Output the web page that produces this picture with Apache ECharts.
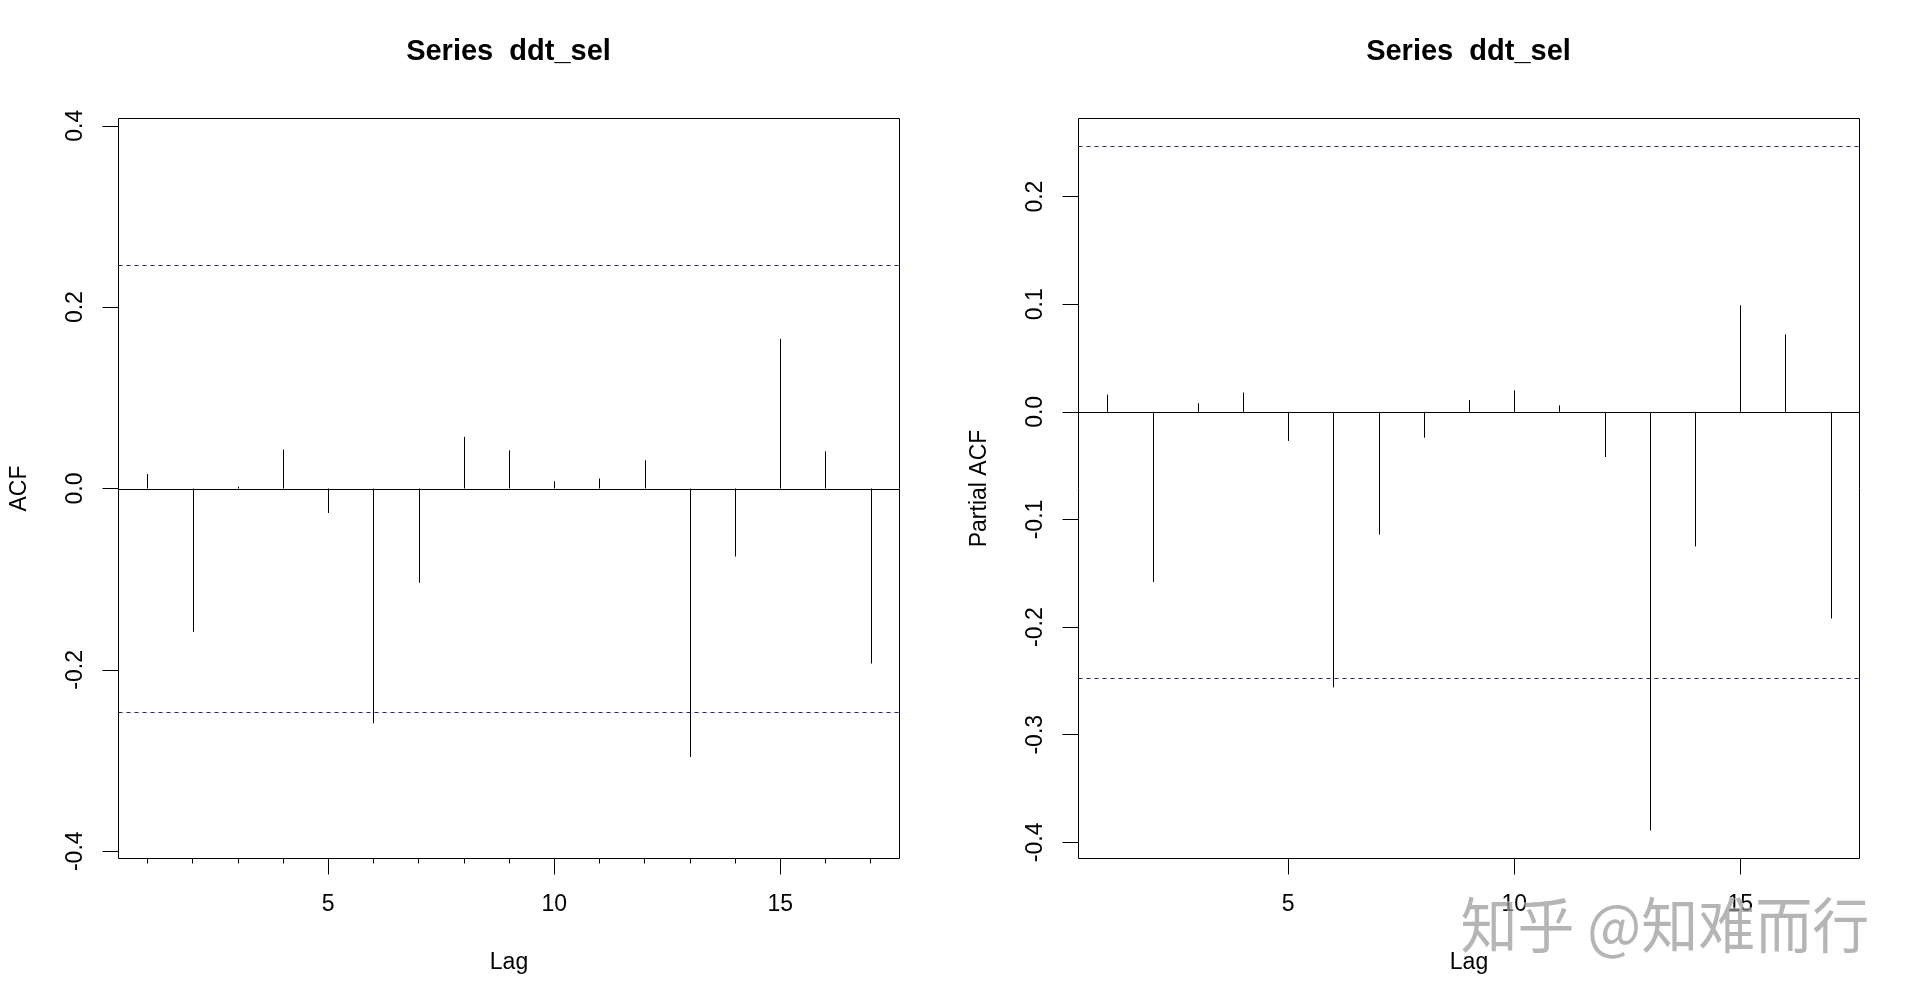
<!DOCTYPE html>
<html>
<head>
<meta charset="utf-8">
<script src="https://cdn.jsdelivr.net/npm/echarts@6/dist/echarts.min.js"></script>
<style>
html,body{margin:0;padding:0;background:#fff;}
#chart{width:1920px;height:1005px;}
</style>
</head>
<body>
<div id="chart"></div>
<script>
// ---- data ----
const lags = [1,2,3,4,5,6,7,8,9,10,11,12,13,14,15,16,17];
const acfValues  = [0.016,-0.158,0.002,0.043,-0.027,-0.259,-0.104,0.057,0.042,0.008,0.011,0.031,-0.296,-0.075,0.165,0.041,-0.193];
const pacfValues = [0.016,-0.158,0.008,0.018,-0.027,-0.256,-0.114,-0.024,0.011,0.020,0.006,-0.042,-0.389,-0.125,0.099,0.072,-0.192];
const ciBound = 0.247;
const xMajorTicks = [5,10,15];
const acfYTicks  = [-0.4,-0.2,0.0,0.2,0.4];
const pacfYTicks = [-0.4,-0.3,-0.2,-0.1,0.0,0.1,0.2];
const titleText = 'Series  ddt_sel';
const watermarkText = '知乎 @知难而行';

const FONT = '"Liberation Sans", Arial, sans-serif';
const AX = 23;
const ciColor = '#22227a';

function stems(vals){ return lags.map((l,i)=>[l, vals[i]]); }

function stemRender(params, api){
  const p0 = api.coord([api.value(0), 0]);
  const p1 = api.coord([api.value(0), api.value(1)]);
  const x = Math.round(p0[0]) + 0.5;
  return {type:'line', shape:{x1:x, y1:p0[1], x2:x, y2:p1[1]}, style:{stroke:'#000', lineWidth:1}};
}
function hlineRender(params, api){
  const cs = params.coordSys;
  const y = Math.round(api.coord([lags[0], api.value(0)])[1]) + 0.5;
  const dashed = api.value(1) === 1;
  return {type:'line', shape:{x1:cs.x, y1:y, x2:cs.x+cs.width, y2:y},
    style:{stroke: dashed ? ciColor : '#000', lineWidth:1, lineDash: dashed ? [4,4] : null}};
}

const grids = [
  {left:118.5, top:118.5, width:781, height:740, show:true, borderColor:'#000', borderWidth:1, backgroundColor:'transparent'},
  {left:1078.5, top:118.5, width:781, height:740, show:true, borderColor:'#000', borderWidth:1, backgroundColor:'transparent'}
];

function xAxisMain(gi){
  return {type:'value', gridIndex:gi, min:0.36, max:17.64, position:'bottom',
    name:'Lag', nameLocation:'middle', nameGap:93,
    nameTextStyle:{fontFamily:FONT, fontSize:AX, color:'#000'},
    axisLine:{show:false, onZero:false}, splitLine:{show:false},
    axisTick:{show:true, length:16, customValues:xMajorTicks, lineStyle:{color:'#000', width:1}},
    axisLabel:{show:true, customValues:xMajorTicks, margin:35, fontFamily:FONT, fontSize:AX, color:'#000'}};
}
function yAxisMain(gi, min, max, ticks, name){
  return {type:'value', gridIndex:gi, min:min, max:max,
    name:name, nameLocation:'middle', nameGap:87,
    nameTextStyle:{fontFamily:FONT, fontSize:AX, color:'#000'},
    axisLine:{show:false, onZero:false}, splitLine:{show:false},
    axisTick:{show:true, length:16, customValues:ticks, lineStyle:{color:'#000', width:1}},
    axisLabel:{show:true, customValues:ticks, rotate:90, margin:31, fontFamily:FONT, fontSize:AX, color:'#000',
      formatter:(v)=>Number(v).toFixed(1)}};
}

const option = {
  animation:false,
  backgroundColor:'#fff',
  title:[
    {text:titleText, left:503.5, top:32.5, textAlign:'center',
     textStyle:{fontFamily:FONT, fontSize:29, fontWeight:'bold', color:'#000'}},
    {text:titleText, left:1463.5, top:32.5, textAlign:'center',
     textStyle:{fontFamily:FONT, fontSize:29, fontWeight:'bold', color:'#000'}}
  ],
  grid:grids,
  xAxis:[
    xAxisMain(0),
    xAxisMain(1),
    {type:'value', gridIndex:0, min:0.36, max:17.64, position:'bottom', offset:0,
     axisLine:{show:false, onZero:false}, splitLine:{show:false}, axisLabel:{show:false},
     axisTick:{show:true, length:5, customValues:lags, lineStyle:{color:'#000', width:1}}}
  ],
  yAxis:[
    yAxisMain(0, -0.408, 0.408, acfYTicks, 'ACF'),
    yAxisMain(1, -0.415, 0.2726, pacfYTicks, 'Partial ACF')
  ],
  series:[
    {type:'custom', xAxisIndex:0, yAxisIndex:0, renderItem:hlineRender, silent:true,
     data:[[0,0],[ciBound,1],[-ciBound,1]]},
    {type:'custom', xAxisIndex:0, yAxisIndex:0, renderItem:stemRender, silent:true, data:stems(acfValues)},
    {type:'custom', xAxisIndex:1, yAxisIndex:1, renderItem:hlineRender, silent:true,
     data:[[0,0],[ciBound,1],[-ciBound,1]]},
    {type:'custom', xAxisIndex:1, yAxisIndex:1, renderItem:stemRender, silent:true, data:stems(pacfValues)}
  ],
  graphic:[
    {type:'text', left:1460, top:895, z:100, scaleY:1.05,
     style:{text:watermarkText, fontFamily:'"Noto Sans CJK SC", sans-serif', fontSize:57,
       fill:'rgba(150,150,150,0.7)', stroke:'rgba(255,255,255,0.6)', lineWidth:1}}
  ]
};

const chart = echarts.init(document.getElementById('chart'), null, {renderer:'canvas'});
chart.setOption(option);
</script>
</body>
</html>
